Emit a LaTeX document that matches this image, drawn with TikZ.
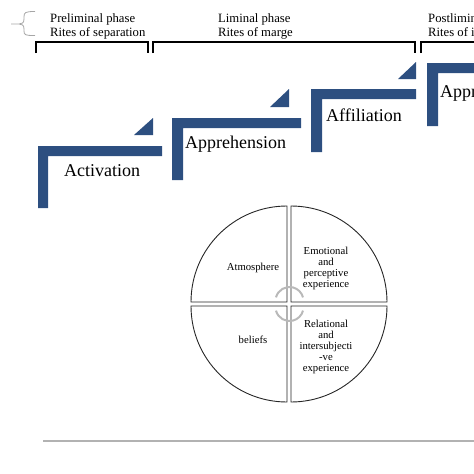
\documentclass[tikz,border=0pt]{standalone}
\usepackage{fontspec}
\setmainfont{Liberation Serif}
\usepackage{tikz}
\usetikzlibrary{calc}
\definecolor{stepblue}{RGB}{45,79,128}

\begin{document}
\begin{tikzpicture}[x=1pt,y=1pt,yscale=-1,
    phase/.style={anchor=base west,inner sep=0pt,align=left,font=\fontsize{12.7}{14.5}\selectfont},
    steplabel/.style={anchor=base west,inner sep=0pt,font=\fontsize{18}{20}\selectfont},
    quadtext/.style={inner sep=0pt,align=center,font=\fontsize{10.7}{11}\selectfont},
    quad/.style={draw=black!85,line width=0.9pt}]
    \useasboundingbox (0,0) rectangle (474,474);
    \clip (0,0) rectangle (474,474);
    % phases on top
    \draw[gray!70,line width=0.8pt] (11,24) -- (19,24)
      (35,11.5) .. controls (25,11.5) and (24,12.5) .. (24,17) -- (24,19)
      .. controls (24,23) and (22,24) .. (19,24)
      .. controls (22,24) and (24,25) .. (24,29) -- (24,31)
      .. controls (24,35) and (25,35.5) .. (35,35.5);
    \node[phase] (pre) at (50,36.5) {Preliminal phase\\Rites of separation};
    \node[phase] (lim) at (218,36.5) {Liminal phase\\Rites of marge};
    \node[phase] (post) at (428,36.5) {Postliminal phase\\Rites of incorporation};
    \draw[line width=1.8pt] (36,53) -- (36,42) -- (148,42) -- (148,53);
    \draw[line width=1.8pt] (153,53) -- (153,42) -- (415,42) -- (415,53);
    \draw[line width=1.8pt] (421,53) -- (421,42) -- (480,42);
    % steps
    \fill[stepblue] (38,146) -- (162,146) -- (162,156) -- (48,156) -- (48,208) -- (38,208) -- cycle;
    \fill[stepblue] (134,135) -- (153,118) -- (153,135) -- cycle;
    \fill[stepblue] (172,118) -- (301,118) -- (301,128) -- (183,128) -- (183,180) -- (172,180) -- cycle;
    \fill[stepblue] (270,107) -- (289,89) -- (289,107) -- cycle;
    \fill[stepblue] (311,89) -- (416,89) -- (416,99) -- (322,99) -- (322,152) -- (311,152) -- cycle;
    \fill[stepblue] (398,79) -- (416,62) -- (416,79) -- cycle;
    \fill[stepblue] (427,63) -- (480,63) -- (480,73) -- (438,73) -- (438,126) -- (427,126) -- cycle;
    \node[steplabel] (act) at (64,176) {Activation};
    \node[steplabel] (app) at (185,148) {Apprehension};
    \node[steplabel] (aff) at (326,121) {Affiliation};
    \node[steplabel] (apr) at (440,97) {Appropriation};
    % circle in four parts
    \draw[quad] (287,302) -- (191,302) arc[start angle=180,end angle=270,radius=96] -- cycle;
    \draw[quad] (291,302) -- (291,206) arc[start angle=270,end angle=360,radius=96] -- cycle;
    \draw[quad] (287,306) -- (191,306) arc[start angle=180,end angle=90,radius=96] -- cycle;
    \draw[quad] (291,306) -- (387,306) arc[start angle=0,end angle=90,radius=96] -- cycle;
    \draw[gray!55,line width=2pt] ($(289.5,301)+(195:14)$) arc[start angle=195,end angle=345,radius=14];
    \draw[gray!55,line width=2pt] ($(289.5,307)+(165:14)$) arc[start angle=165,end angle=15,radius=14];
    \node[quadtext] (atmo) at (253,268) {Atmosphere};
    \node[quadtext] (emo) at (326,268) {Emotional\\and\\perceptive\\experience};
    \node[quadtext] (bel) at (253,340) {beliefs};
    \node[quadtext] (rel) at (326,347) {Relational\\and\\intersubjecti\\-ve\\experience};
    \draw[gray!60,line width=1.2pt] (43,441) -- (480,441);
    \end{tikzpicture}
\end{document}
